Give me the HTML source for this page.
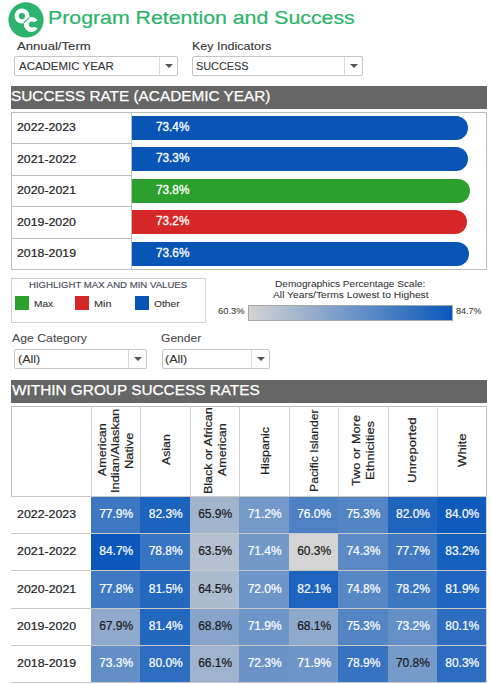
<!DOCTYPE html><html><head><meta charset="utf-8"><style>
*{margin:0;padding:0;box-sizing:border-box}
html,body{width:491px;height:684px;overflow:hidden;background:#fff;font-family:"Liberation Sans",sans-serif;color:#333}
.a{position:absolute}
.t{position:absolute;white-space:nowrap;transform-origin:0 0}
.dd{position:absolute;border:1px solid #c6c6c6;border-radius:2px;background:#fff}
.sep{position:absolute;width:1px;background:#dadada}
.tri{position:absolute;width:0;height:0;border-left:4px solid transparent;border-right:4px solid transparent;border-top:4.5px solid #555}
.hdr{position:absolute;left:11px;width:476px;height:23px;background:#666}
.ln{position:absolute;background:#bdbdbd}
.bar{position:absolute;left:132px;height:24px;border-radius:0 12px 12px 0}
.cell{position:absolute}
.rt{position:absolute;white-space:nowrap;transform-origin:0 0;color:#222;-webkit-text-stroke:0.2px currentColor}
</style></head><body>
<svg class="a" style="left:8px;top:2px" width="36" height="36" viewBox="0 0 36 36">
<circle cx="18" cy="17.95" r="17.6" fill="#2eb36e"/>
<circle cx="23.35" cy="22.55" r="7.45" fill="#fff"/>
<circle cx="23.85" cy="22.55" r="3.0" fill="#2eb36e"/>
<path d="M23.85 21.2 L33 16.65 L33 27.5 L23.85 24 Z" fill="#2eb36e"/>
<circle cx="14" cy="14" r="7.5" fill="#fff"/>
<circle cx="13.95" cy="14.05" r="3.15" fill="#2eb36e"/>
<path d="M16.2 20.7 L21.0 15.8" stroke="#2eb36e" stroke-width="1.2" stroke-linecap="round"/>
</svg>
<div class="dd" style="left:14px;top:56px;width:164px;height:20px"></div><div class="sep" style="left:159px;top:57px;height:18px"></div><div class="tri" style="left:164.5px;top:63.5px"></div>
<div class="dd" style="left:192px;top:56px;width:171px;height:20px"></div><div class="sep" style="left:344px;top:57px;height:18px"></div><div class="tri" style="left:349.5px;top:63.5px"></div>
<div class="hdr" style="top:86px"></div>
<div class="hdr" style="top:380px"></div>
<div class="ln" style="left:11px;top:112px;width:476px;height:1px"></div>
<div class="ln" style="left:11px;top:269px;width:476px;height:1px"></div>
<div class="ln" style="left:11px;top:112px;width:1px;height:158px"></div>
<div class="ln" style="left:486px;top:112px;width:1px;height:158px"></div>
<div class="ln" style="left:131px;top:112px;width:1px;height:158px"></div>
<div class="ln" style="left:11px;top:143px;width:121px;height:1px"></div>
<div class="ln" style="left:11px;top:175px;width:121px;height:1px"></div>
<div class="ln" style="left:11px;top:206px;width:121px;height:1px"></div>
<div class="ln" style="left:11px;top:238px;width:121px;height:1px"></div>
<div class="bar" style="top:116px;width:336.2px;background:#0855b5"></div>
<div class="bar" style="top:147px;width:335.8px;background:#0855b5"></div>
<div class="bar" style="top:179px;width:338.0px;background:#2ca02c"></div>
<div class="bar" style="top:210px;width:335.3px;background:#d62728"></div>
<div class="bar" style="top:242px;width:337.1px;background:#0855b5"></div>
<div class="a" style="left:11px;top:278px;width:195px;height:45px;border:1px solid #d0d0d0"></div>
<div class="a" style="left:15px;top:296px;width:14px;height:14px;background:#2ca02c"></div>
<div class="a" style="left:75px;top:296px;width:14px;height:14px;background:#d62728"></div>
<div class="a" style="left:135px;top:296px;width:14px;height:14px;background:#0855b5"></div>
<div class="a" style="left:248px;top:305px;width:205px;height:16px;border:1px solid #a8a8a8;background:linear-gradient(to right,#d4d4d4,#0a58bc)"></div>
<div class="dd" style="left:14px;top:349px;width:133px;height:20px"></div><div class="sep" style="left:128px;top:350px;height:18px"></div><div class="tri" style="left:133.5px;top:356.5px"></div>
<div class="dd" style="left:162px;top:349px;width:108px;height:20px"></div><div class="sep" style="left:251px;top:350px;height:18px"></div><div class="tri" style="left:256.5px;top:356.5px"></div>
<div class="ln" style="left:11px;top:406px;width:476px;height:1px"></div>
<div class="ln" style="left:11px;top:406px;width:1px;height:91px"></div>
<div class="ln" style="left:486px;top:406px;width:1px;height:90px"></div>
<div class="ln" style="left:91px;top:406px;width:1px;height:90px;background:#d0d0d0"></div>
<div class="ln" style="left:140px;top:406px;width:1px;height:90px;background:#d0d0d0"></div>
<div class="ln" style="left:190px;top:406px;width:1px;height:90px;background:#d0d0d0"></div>
<div class="ln" style="left:239px;top:406px;width:1px;height:90px;background:#d0d0d0"></div>
<div class="ln" style="left:289px;top:406px;width:1px;height:90px;background:#d0d0d0"></div>
<div class="ln" style="left:338px;top:406px;width:1px;height:90px;background:#d0d0d0"></div>
<div class="ln" style="left:388px;top:406px;width:1px;height:90px;background:#d0d0d0"></div>
<div class="ln" style="left:437px;top:406px;width:1px;height:90px;background:#d0d0d0"></div>
<div class="a" style="left:91px;top:496px;width:396px;height:187px;background:#d6d6d6"></div>
<div class="ln" style="left:11px;top:496px;width:476px;height:1px;background:#c8c8c8"></div>
<div class="cell" style="left:91px;top:497px;width:49px;height:36px;background:#3e78c2"></div>
<div class="t" style="left:99.19px;top:506.14px;font-size:12px;line-height:16px;color:#fff;-webkit-text-stroke:0.2px #fff">77.9%</div>
<div class="cell" style="left:140px;top:497px;width:50px;height:36px;background:#1c63be"></div>
<div class="t" style="left:148.75px;top:506.14px;font-size:12px;line-height:16px;color:#fff;-webkit-text-stroke:0.2px #fff">82.3%</div>
<div class="cell" style="left:190px;top:497px;width:49px;height:36px;background:#a0b4ce"></div>
<div class="t" style="left:198.19px;top:506.14px;font-size:12px;line-height:16px;color:#1a1a1a;-webkit-text-stroke:0.2px #1a1a1a">65.9%</div>
<div class="cell" style="left:239px;top:497px;width:50px;height:36px;background:#7499c9"></div>
<div class="t" style="left:247.69px;top:506.14px;font-size:12px;line-height:16px;color:#fff;-webkit-text-stroke:0.2px #fff">71.2%</div>
<div class="cell" style="left:289px;top:497px;width:49px;height:36px;background:#4d81c4"></div>
<div class="t" style="left:297.19px;top:506.14px;font-size:12px;line-height:16px;color:#fff;-webkit-text-stroke:0.2px #fff">76.0%</div>
<div class="cell" style="left:338px;top:497px;width:50px;height:36px;background:#5385c5"></div>
<div class="t" style="left:346.44px;top:506.14px;font-size:12px;line-height:16px;color:#fff;-webkit-text-stroke:0.2px #fff">75.3%</div>
<div class="cell" style="left:388px;top:497px;width:49px;height:36px;background:#1f65be"></div>
<div class="t" style="left:396.00px;top:506.14px;font-size:12px;line-height:16px;color:#fff;-webkit-text-stroke:0.2px #fff">82.0%</div>
<div class="cell" style="left:437px;top:497px;width:49px;height:36px;background:#0f5bbd"></div>
<div class="t" style="left:445.25px;top:506.14px;font-size:12px;line-height:16px;color:#fff;-webkit-text-stroke:0.2px #fff">84.0%</div>
<div class="ln" style="left:11px;top:533px;width:476px;height:1px;background:#c8c8c8"></div>
<div class="cell" style="left:91px;top:534px;width:49px;height:36px;background:#0a58bc"></div>
<div class="t" style="left:99.25px;top:543.24px;font-size:12px;line-height:16px;color:#fff;-webkit-text-stroke:0.2px #fff">84.7%</div>
<div class="cell" style="left:140px;top:534px;width:50px;height:36px;background:#3774c1"></div>
<div class="t" style="left:148.69px;top:543.24px;font-size:12px;line-height:16px;color:#fff;-webkit-text-stroke:0.2px #fff">78.8%</div>
<div class="cell" style="left:190px;top:534px;width:49px;height:36px;background:#b5c1d0"></div>
<div class="t" style="left:198.19px;top:543.24px;font-size:12px;line-height:16px;color:#1a1a1a;-webkit-text-stroke:0.2px #1a1a1a">63.5%</div>
<div class="cell" style="left:239px;top:534px;width:50px;height:36px;background:#7298c8"></div>
<div class="t" style="left:247.69px;top:543.24px;font-size:12px;line-height:16px;color:#fff;-webkit-text-stroke:0.2px #fff">71.4%</div>
<div class="cell" style="left:289px;top:534px;width:49px;height:36px;background:#d4d4d4"></div>
<div class="t" style="left:297.19px;top:543.24px;font-size:12px;line-height:16px;color:#1a1a1a;-webkit-text-stroke:0.2px #1a1a1a">60.3%</div>
<div class="cell" style="left:338px;top:534px;width:50px;height:36px;background:#5b8ac6"></div>
<div class="t" style="left:346.44px;top:543.24px;font-size:12px;line-height:16px;color:#fff;-webkit-text-stroke:0.2px #fff">74.3%</div>
<div class="cell" style="left:388px;top:534px;width:49px;height:36px;background:#4079c2"></div>
<div class="t" style="left:395.94px;top:543.24px;font-size:12px;line-height:16px;color:#fff;-webkit-text-stroke:0.2px #fff">77.7%</div>
<div class="cell" style="left:437px;top:534px;width:49px;height:36px;background:#155fbd"></div>
<div class="t" style="left:445.25px;top:543.24px;font-size:12px;line-height:16px;color:#fff;-webkit-text-stroke:0.2px #fff">83.2%</div>
<div class="ln" style="left:11px;top:570px;width:476px;height:1px;background:#c8c8c8"></div>
<div class="cell" style="left:91px;top:571px;width:49px;height:37px;background:#3f79c2"></div>
<div class="t" style="left:99.19px;top:580.64px;font-size:12px;line-height:16px;color:#fff;-webkit-text-stroke:0.2px #fff">77.8%</div>
<div class="cell" style="left:140px;top:571px;width:50px;height:37px;background:#2367bf"></div>
<div class="t" style="left:148.75px;top:580.64px;font-size:12px;line-height:16px;color:#fff;-webkit-text-stroke:0.2px #fff">81.5%</div>
<div class="cell" style="left:190px;top:571px;width:49px;height:37px;background:#acbbcf"></div>
<div class="t" style="left:198.19px;top:580.64px;font-size:12px;line-height:16px;color:#1a1a1a;-webkit-text-stroke:0.2px #1a1a1a">64.5%</div>
<div class="cell" style="left:239px;top:571px;width:50px;height:37px;background:#6d95c8"></div>
<div class="t" style="left:247.69px;top:580.64px;font-size:12px;line-height:16px;color:#fff;-webkit-text-stroke:0.2px #fff">72.0%</div>
<div class="cell" style="left:289px;top:571px;width:49px;height:37px;background:#1e64be"></div>
<div class="t" style="left:297.25px;top:580.64px;font-size:12px;line-height:16px;color:#fff;-webkit-text-stroke:0.2px #fff">82.1%</div>
<div class="cell" style="left:338px;top:571px;width:50px;height:37px;background:#5787c5"></div>
<div class="t" style="left:346.44px;top:580.64px;font-size:12px;line-height:16px;color:#fff;-webkit-text-stroke:0.2px #fff">74.8%</div>
<div class="cell" style="left:388px;top:571px;width:49px;height:37px;background:#3c77c2"></div>
<div class="t" style="left:395.94px;top:580.64px;font-size:12px;line-height:16px;color:#fff;-webkit-text-stroke:0.2px #fff">78.2%</div>
<div class="cell" style="left:437px;top:571px;width:49px;height:37px;background:#1f65bf"></div>
<div class="t" style="left:445.25px;top:580.64px;font-size:12px;line-height:16px;color:#fff;-webkit-text-stroke:0.2px #fff">81.9%</div>
<div class="ln" style="left:11px;top:608px;width:476px;height:1px;background:#c8c8c8"></div>
<div class="cell" style="left:91px;top:609px;width:49px;height:36px;background:#8faacc"></div>
<div class="t" style="left:99.19px;top:618.09px;font-size:12px;line-height:16px;color:#1a1a1a;-webkit-text-stroke:0.2px #1a1a1a">67.9%</div>
<div class="cell" style="left:140px;top:609px;width:50px;height:36px;background:#2368bf"></div>
<div class="t" style="left:148.75px;top:618.09px;font-size:12px;line-height:16px;color:#fff;-webkit-text-stroke:0.2px #fff">81.4%</div>
<div class="cell" style="left:190px;top:609px;width:49px;height:36px;background:#87a5cb"></div>
<div class="t" style="left:198.19px;top:618.09px;font-size:12px;line-height:16px;color:#1a1a1a;-webkit-text-stroke:0.2px #1a1a1a">68.8%</div>
<div class="cell" style="left:239px;top:609px;width:50px;height:36px;background:#6e95c8"></div>
<div class="t" style="left:247.69px;top:618.09px;font-size:12px;line-height:16px;color:#fff;-webkit-text-stroke:0.2px #fff">71.9%</div>
<div class="cell" style="left:289px;top:609px;width:49px;height:36px;background:#8da9cc"></div>
<div class="t" style="left:297.19px;top:618.09px;font-size:12px;line-height:16px;color:#1a1a1a;-webkit-text-stroke:0.2px #1a1a1a">68.1%</div>
<div class="cell" style="left:338px;top:609px;width:50px;height:36px;background:#5385c5"></div>
<div class="t" style="left:346.44px;top:618.09px;font-size:12px;line-height:16px;color:#fff;-webkit-text-stroke:0.2px #fff">75.3%</div>
<div class="cell" style="left:388px;top:609px;width:49px;height:36px;background:#648fc7"></div>
<div class="t" style="left:395.94px;top:618.09px;font-size:12px;line-height:16px;color:#fff;-webkit-text-stroke:0.2px #fff">73.2%</div>
<div class="cell" style="left:437px;top:609px;width:49px;height:36px;background:#2d6ec0"></div>
<div class="t" style="left:445.25px;top:618.09px;font-size:12px;line-height:16px;color:#fff;-webkit-text-stroke:0.2px #fff">80.1%</div>
<div class="ln" style="left:11px;top:645px;width:476px;height:1px;background:#c8c8c8"></div>
<div class="cell" style="left:91px;top:646px;width:49px;height:36px;background:#638fc7"></div>
<div class="t" style="left:99.19px;top:654.99px;font-size:12px;line-height:16px;color:#fff;-webkit-text-stroke:0.2px #fff">73.3%</div>
<div class="cell" style="left:140px;top:646px;width:50px;height:36px;background:#2e6ec0"></div>
<div class="t" style="left:148.75px;top:654.99px;font-size:12px;line-height:16px;color:#fff;-webkit-text-stroke:0.2px #fff">80.0%</div>
<div class="cell" style="left:190px;top:646px;width:49px;height:36px;background:#9eb3ce"></div>
<div class="t" style="left:198.19px;top:654.99px;font-size:12px;line-height:16px;color:#1a1a1a;-webkit-text-stroke:0.2px #1a1a1a">66.1%</div>
<div class="cell" style="left:239px;top:646px;width:50px;height:36px;background:#6b93c8"></div>
<div class="t" style="left:247.69px;top:654.99px;font-size:12px;line-height:16px;color:#fff;-webkit-text-stroke:0.2px #fff">72.3%</div>
<div class="cell" style="left:289px;top:646px;width:49px;height:36px;background:#6e95c8"></div>
<div class="t" style="left:297.19px;top:654.99px;font-size:12px;line-height:16px;color:#fff;-webkit-text-stroke:0.2px #fff">71.9%</div>
<div class="cell" style="left:338px;top:646px;width:50px;height:36px;background:#3773c1"></div>
<div class="t" style="left:346.44px;top:654.99px;font-size:12px;line-height:16px;color:#fff;-webkit-text-stroke:0.2px #fff">78.9%</div>
<div class="cell" style="left:388px;top:646px;width:49px;height:36px;background:#779bc9"></div>
<div class="t" style="left:395.94px;top:654.99px;font-size:12px;line-height:16px;color:#1a1a1a;-webkit-text-stroke:0.2px #1a1a1a">70.8%</div>
<div class="cell" style="left:437px;top:646px;width:49px;height:36px;background:#2c6dc0"></div>
<div class="t" style="left:445.25px;top:654.99px;font-size:12px;line-height:16px;color:#fff;-webkit-text-stroke:0.2px #fff">80.3%</div>
<div class="ln" style="left:11px;top:682px;width:476px;height:1px;background:#c8c8c8"></div>
<div class="t" style="left:48.09px;top:6.67px;font-size:17.70px;line-height:23px;transform:scaleX(1.2046);color:#2db36c;-webkit-text-stroke:0.2px currentColor">Program Retention and Success</div>
<div class="t" style="left:17.30px;top:39.13px;font-size:10.60px;line-height:14px;transform:scaleX(1.2390);color:#333;-webkit-text-stroke:0.1px currentColor">Annual/Term</div>
<div class="t" style="left:192.00px;top:39.13px;font-size:10.60px;line-height:14px;transform:scaleX(1.1828);color:#333;-webkit-text-stroke:0.1px currentColor">Key Indicators</div>
<div class="t" style="left:18.60px;top:58.89px;font-size:11.00px;line-height:14px;transform:scaleX(1.0429);color:#333;-webkit-text-stroke:0.1px currentColor">ACADEMIC YEAR</div>
<div class="t" style="left:195.71px;top:58.89px;font-size:11.00px;line-height:14px;transform:scaleX(0.9881);color:#333;-webkit-text-stroke:0.1px currentColor">SUCCESS</div>
<div class="t" style="left:11.11px;top:86.67px;font-size:14.80px;line-height:19px;transform:scaleX(1.0369);color:#fff;-webkit-text-stroke:0.25px currentColor">SUCCESS RATE (ACADEMIC YEAR)</div>
<div class="t" style="left:156.01px;top:119.24px;font-size:12.00px;line-height:16px;transform:scaleX(0.9814);color:#fff;-webkit-text-stroke:0.3px currentColor">73.4%</div>
<div class="t" style="left:16.78px;top:120.09px;font-size:11.00px;line-height:14px;transform:scaleX(1.1201);color:#222;-webkit-text-stroke:0.2px currentColor">2022-2023</div>
<div class="t" style="left:156.01px;top:150.24px;font-size:12.00px;line-height:16px;transform:scaleX(0.9814);color:#fff;-webkit-text-stroke:0.3px currentColor">73.3%</div>
<div class="t" style="left:16.78px;top:151.59px;font-size:11.00px;line-height:14px;transform:scaleX(1.1213);color:#222;-webkit-text-stroke:0.2px currentColor">2021-2022</div>
<div class="t" style="left:156.01px;top:182.24px;font-size:12.00px;line-height:16px;transform:scaleX(0.9814);color:#fff;-webkit-text-stroke:0.3px currentColor">73.8%</div>
<div class="t" style="left:16.78px;top:183.09px;font-size:11.00px;line-height:14px;transform:scaleX(1.1213);color:#222;-webkit-text-stroke:0.2px currentColor">2020-2021</div>
<div class="t" style="left:156.01px;top:213.24px;font-size:12.00px;line-height:16px;transform:scaleX(0.9814);color:#fff;-webkit-text-stroke:0.3px currentColor">73.2%</div>
<div class="t" style="left:16.78px;top:214.59px;font-size:11.00px;line-height:14px;transform:scaleX(1.1189);color:#222;-webkit-text-stroke:0.2px currentColor">2019-2020</div>
<div class="t" style="left:156.01px;top:245.24px;font-size:12.00px;line-height:16px;transform:scaleX(0.9814);color:#fff;-webkit-text-stroke:0.3px currentColor">73.6%</div>
<div class="t" style="left:16.78px;top:246.09px;font-size:11.00px;line-height:14px;transform:scaleX(1.1213);color:#222;-webkit-text-stroke:0.2px currentColor">2018-2019</div>
<div class="t" style="left:28.73px;top:279.04px;font-size:9.40px;line-height:12px;transform:scaleX(1.0245);color:#4a4a5a;-webkit-text-stroke:0.15px currentColor">HIGHLIGHT MAX AND MIN VALUES</div>
<div class="t" style="left:33.69px;top:297.37px;font-size:9.90px;line-height:13px;transform:scaleX(1.0274);color:#333;-webkit-text-stroke:0.1px currentColor">Max</div>
<div class="t" style="left:93.92px;top:297.37px;font-size:9.90px;line-height:13px;transform:scaleX(1.1062);color:#333;-webkit-text-stroke:0.1px currentColor">Min</div>
<div class="t" style="left:154.14px;top:297.37px;font-size:9.90px;line-height:13px;transform:scaleX(1.0420);color:#333;-webkit-text-stroke:0.1px currentColor">Other</div>
<div class="t" style="left:275.19px;top:278.24px;font-size:9.40px;line-height:12px;transform:scaleX(1.0762);color:#333;-webkit-text-stroke:0.05px currentColor">Demographics Percentage Scale:</div>
<div class="t" style="left:273.40px;top:288.74px;font-size:9.40px;line-height:12px;transform:scaleX(1.0980);color:#333;-webkit-text-stroke:0.05px currentColor">All Years/Terms Lowest to Highest</div>
<div class="t" style="left:217.83px;top:304.74px;font-size:9.40px;line-height:12px;transform:scaleX(1.0053);color:#333;-webkit-text-stroke:0.05px currentColor">60.3%</div>
<div class="t" style="left:456.14px;top:304.74px;font-size:9.40px;line-height:12px;transform:scaleX(0.9632);color:#333;-webkit-text-stroke:0.05px currentColor">84.7%</div>
<div class="t" style="left:11.60px;top:330.71px;font-size:11.80px;line-height:15px;transform:scaleX(1.0394);color:#4a4a4a;-webkit-text-stroke:0.1px currentColor">Age Category</div>
<div class="t" style="left:161.10px;top:330.71px;font-size:11.80px;line-height:15px;transform:scaleX(1.0229);color:#4a4a4a;-webkit-text-stroke:0.1px currentColor">Gender</div>
<div class="t" style="left:17.55px;top:352.38px;font-size:11.30px;line-height:15px;transform:scaleX(1.1093);color:#333;-webkit-text-stroke:0.1px currentColor">(All)</div>
<div class="t" style="left:164.65px;top:352.38px;font-size:11.30px;line-height:15px;transform:scaleX(1.1093);color:#333;-webkit-text-stroke:0.1px currentColor">(All)</div>
<div class="t" style="left:11.60px;top:380.57px;font-size:14.80px;line-height:19px;transform:scaleX(1.0378);color:#fff;-webkit-text-stroke:0.25px currentColor">WITHIN GROUP SUCCESS RATES</div>
<div class="t" style="left:16.78px;top:507.09px;font-size:11.00px;line-height:14px;transform:scaleX(1.1240);color:#222;-webkit-text-stroke:0.2px currentColor">2022-2023</div>
<div class="t" style="left:16.78px;top:544.34px;font-size:11.00px;line-height:14px;transform:scaleX(1.1252);color:#222;-webkit-text-stroke:0.2px currentColor">2021-2022</div>
<div class="t" style="left:16.78px;top:581.59px;font-size:11.00px;line-height:14px;transform:scaleX(1.1252);color:#222;-webkit-text-stroke:0.2px currentColor">2020-2021</div>
<div class="t" style="left:16.78px;top:618.84px;font-size:11.00px;line-height:14px;transform:scaleX(1.1228);color:#222;-webkit-text-stroke:0.2px currentColor">2019-2020</div>
<div class="t" style="left:16.78px;top:656.09px;font-size:11.00px;line-height:14px;transform:scaleX(1.1252);color:#222;-webkit-text-stroke:0.2px currentColor">2018-2019</div>
<div class="rt" style="left:95.33px;top:476.40px;font-size:11.50px;line-height:15px;transform:rotate(-90deg) scaleX(1.0863)">American</div>
<div class="rt" style="left:107.83px;top:492.71px;font-size:11.50px;line-height:15px;transform:rotate(-90deg) scaleX(1.1167)">Indian/Alaskan</div>
<div class="rt" style="left:122.13px;top:468.83px;font-size:11.50px;line-height:15px;transform:rotate(-90deg) scaleX(1.1153)">Native</div>
<div class="rt" style="left:159.13px;top:465.40px;font-size:11.50px;line-height:15px;transform:rotate(-90deg) scaleX(1.0690)">Asian</div>
<div class="rt" style="left:200.63px;top:494.20px;font-size:11.50px;line-height:15px;transform:rotate(-90deg) scaleX(1.0849)">Black or African</div>
<div class="rt" style="left:214.53px;top:476.40px;font-size:11.50px;line-height:15px;transform:rotate(-90deg) scaleX(1.0863)">American</div>
<div class="rt" style="left:257.53px;top:474.80px;font-size:11.50px;line-height:15px;transform:rotate(-90deg) scaleX(1.0910)">Hispanic</div>
<div class="rt" style="left:307.43px;top:492.12px;font-size:11.50px;line-height:15px;transform:rotate(-90deg) scaleX(1.0597)">Pacific Islander</div>
<div class="rt" style="left:349.43px;top:485.76px;font-size:11.50px;line-height:15px;transform:rotate(-90deg) scaleX(1.1107)">Two or More</div>
<div class="rt" style="left:362.63px;top:480.24px;font-size:11.50px;line-height:15px;transform:rotate(-90deg) scaleX(1.1274)">Ethnicities</div>
<div class="rt" style="left:405.43px;top:483.28px;font-size:11.50px;line-height:15px;transform:rotate(-90deg) scaleX(1.1399)">Unreported</div>
<div class="rt" style="left:454.83px;top:466.90px;font-size:11.50px;line-height:15px;transform:rotate(-90deg) scaleX(1.1410)">White</div>
</body></html>
